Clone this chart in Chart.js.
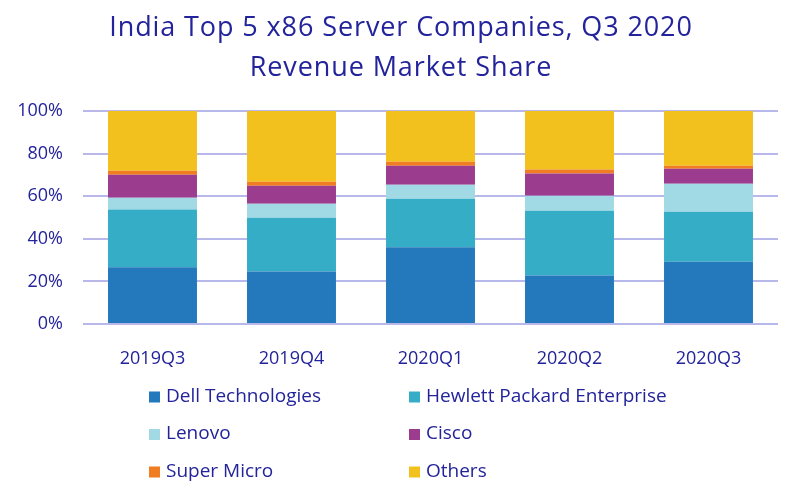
<!DOCTYPE html>
<html>
<head>
<meta charset="utf-8">
<script src="https://cdn.jsdelivr.net/npm/chart.js@4"></script>
<style>
	html, body { margin: 0; background: #fff; }
	#wrap { width: 801px; height: 495px; position: relative; }
</style>
</head>
<body>
<div id="wrap"><canvas id="chart"></canvas></div>
<script>
// values, percent of revenue
const quarters = ["2019Q3", "2019Q4", "2020Q1", "2020Q2", "2020Q3"];
const dell = [26.6, 24.6, 36.0, 22.8, 29.2];
const hpe = [27.1, 25.3, 22.8, 30.4, 23.5];
const lenovo = [5.6, 6.6, 6.6, 7.0, 13.2];
const cisco = [10.8, 8.4, 8.9, 10.4, 7.0];
const superMicro = [1.9, 1.9, 1.9, 1.9, 1.4];
const others = [28.0, 33.2, 23.8, 27.5, 25.7];
const yTicks = [0, 20, 40, 60, 80, 100];
const titleLines = ["India Top 5 x86 Server Companies, Q3 2020", "Revenue Market Share"];

const textColor = "#23239b";
const legendCols = [149, 409];
const legendRows = [401.5, 439, 476.5];
const titleRows = [36, 76];

Chart.defaults.font.family = "'Open Sans', sans-serif";
Chart.defaults.color = textColor;

// title and two column legend drawn on the canvas
const textPlugin = {
	id: "textPlugin",
	afterDraw(chart) {
		const ctx = chart.ctx;
		ctx.save();
		ctx.fillStyle = textColor;
		ctx.textBaseline = "alphabetic";
		ctx.textAlign = "center";
		ctx.font = "27px 'Open Sans'";
		ctx.letterSpacing = "0.9px";
		titleLines.forEach((t, i) => ctx.fillText(t, 401, titleRows[i]));
		ctx.letterSpacing = "0px";

		ctx.textAlign = "left";
		ctx.font = "19px 'Open Sans'";
		chart.data.datasets.forEach((ds, i) => {
			const x = legendCols[i % 2];
			const y = legendRows[Math.floor(i / 2)];
			ctx.fillStyle = ds.backgroundColor;
			ctx.fillRect(x, y - 10, 11, 11);
			ctx.fillStyle = textColor;
			ctx.fillText(ds.label, x + 17, y);
		});
		ctx.restore();
	},
};

const ctx = document.getElementById("chart").getContext("2d");
const chart = new Chart(ctx, {
	type: "bar",
	data: {
		labels: quarters,
		datasets: [
			{ label: "Dell Technologies", data: dell, backgroundColor: "#2479bd" },
			{ label: "Hewlett Packard Enterprise", data: hpe, backgroundColor: "#36adc7" },
			{ label: "Lenovo", data: lenovo, backgroundColor: "#a1dae5" },
			{ label: "Cisco", data: cisco, backgroundColor: "#9b3c8e" },
			{ label: "Super Micro", data: superMicro, backgroundColor: "#f07d22" },
			{ label: "Others", data: others, backgroundColor: "#f3c11d" },
		],
	},
	options: {
		responsive: true,
		maintainAspectRatio: false,
		animation: false,
		layout: { padding: { left: 0, right: 23, top: 111, bottom: 0 } },
		datasets: {
			bar: { barPercentage: 0.64, categoryPercentage: 1.0 },
		},
		plugins: {
			legend: { display: false },
			tooltip: { enabled: false },
			title: { display: false },
		},
		scales: {
			x: {
				stacked: true,
				grid: { display: false },
				border: { display: false },
				ticks: { font: { size: 18 }, padding: 16, color: textColor },
				afterFit(scale) {
					scale.height = 171;
				},
			},
			y: {
				stacked: true,
				min: 0,
				max: 100,
				afterBuildTicks(scale) {
					scale.ticks = yTicks.map((v) => ({ value: v }));
				},
				grid: { color: "#b8b8ea", lineWidth: 2, drawTicks: false },
				border: { display: false },
				ticks: {
					font: { size: 18 },
					padding: 20,
					color: textColor,
					callback: (v) => v + "%",
				},
				afterFit(scale) {
					scale.width = 83;
				},
			},
		},
	},
	plugins: [textPlugin],
});
</script>
</body>
</html>
